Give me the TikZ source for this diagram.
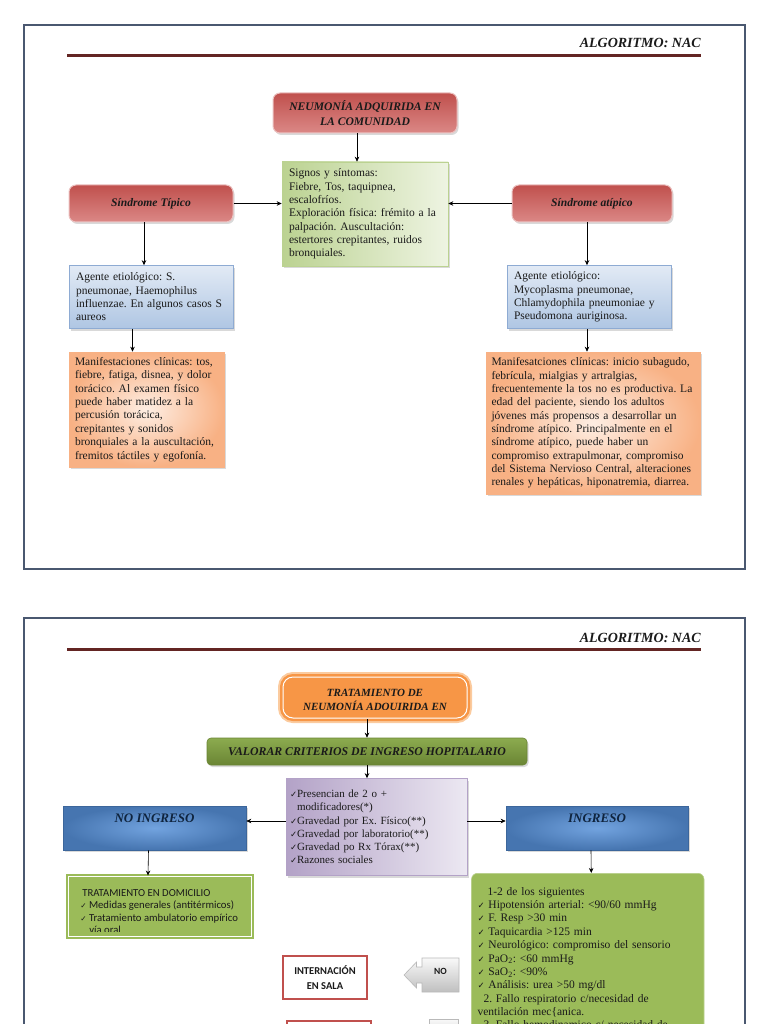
\documentclass[tikz,border=0pt]{standalone}
\usepackage{fontspec}
\setmainfont{Liberation Serif}
\newfontfamily\calibri{Carlito}
\newfontfamily\dejavu{DejaVu Sans}
\usetikzlibrary{shadows, arrows.meta}

\definecolor{rojo}{HTML}{C0504D}
\definecolor{rojoclaro}{HTML}{DB8886}
\definecolor{rojoborde}{HTML}{EBC1C0}
\definecolor{azuloscuro}{HTML}{4675B0}
\definecolor{azulclaro}{HTML}{72A3DF}
\definecolor{azulborde}{HTML}{3C669B}
\definecolor{marino}{HTML}{0F243E}
\definecolor{celeste}{HTML}{AFC6E3}
\definecolor{celesteclaro}{HTML}{E2EAF5}
\definecolor{celesteborde}{HTML}{8EABD3}
\definecolor{naranja}{HTML}{F79646}
\definecolor{naranjaclaro}{HTML}{FBCB9F}
\definecolor{salmon}{HTML}{F8B184}
\definecolor{salmonclaro}{HTML}{FEEEE3}
\definecolor{verde}{HTML}{9BBB59}
\definecolor{verdeclaro}{HTML}{EEF4E2}
\definecolor{verdemedio}{HTML}{BBD291}
\definecolor{oliva}{HTML}{6A8534}
\definecolor{olivaclaro}{HTML}{8CAB4F}
\definecolor{lila}{HTML}{B3A2C7}
\definecolor{lilaclaro}{HTML}{ECE8F2}
\definecolor{marco}{HTML}{4A5870}
\definecolor{vino}{HTML}{632523}
\definecolor{tinta}{HTML}{1A1A1A}

\newcommand{\chk}{{\dejavu\fontsize{8.5}{8.5}\selectfont ✓}}
\newcommand{\chkS}{{\dejavu\fontsize{7.5}{7.5}\selectfont ✓}}
\frenchspacing

\begin{document}
\begin{tikzpicture}[
            x = 1pt, y = -1pt, % one unit per pixel, y grows downwards
            > = {Stealth[length=5pt, width=4.5pt]}, % arrow head style
            semithick, % line style
            every node/.style = {text=tinta},
            sombra/.style = {drop shadow={opacity=0.3, shadow xshift=1.5pt, shadow yshift=-2pt}},
            hoja/.style = {draw=marco, line width=1.3pt},
            regla/.style = {draw=vino, line width=3.5pt},
            titulo/.style = {font=\bfseries\itshape\fontsize{14}{14}\selectfont, inner sep=0pt},
            redbox/.style = {rectangle, rounded corners=7pt, draw=rojoborde, line width=1pt,
                top color=rojo, bottom color=rojoclaro, sombra, align=center,
                font=\bfseries\itshape\fontsize{11.6}{15}\selectfont},
            textbox/.style = {rectangle, align=left, inner ysep=2pt, sombra,
                font=\fontsize{11.5}{13.35}\selectfont},
            greenbox/.style = {textbox, draw=verdemedio, left color=verdemedio, right color=verdeclaro},
            agentbox/.style = {textbox, draw=celesteborde, top color=celesteclaro, bottom color=celeste},
            manbox/.style = {textbox, draw=salmon, inner color=salmonclaro, outer color=salmon},
            orangebox/.style = {rectangle, rounded corners=10pt, fill=naranja, draw=naranja,
                double=white, double distance=1pt, line width=2.5pt,
                preaction={draw=naranjaclaro, line width=10pt}},
            olivebox/.style = {rectangle, rounded corners=4pt, draw=oliva, top color=olivaclaro,
                bottom color=oliva, sombra, font=\bfseries\itshape\fontsize{11.8}{13}\selectfont},
            lilabox/.style = {textbox, draw=lila, left color=lila, right color=lilaclaro,
                font=\fontsize{11}{13.2}\selectfont},
            bluebox/.style = {rectangle, draw=azulborde, inner color=azulclaro, outer color=azuloscuro,
                sombra, text height=11pt, text depth=23pt, inner ysep=5pt, text=marino,
                font=\bfseries\itshape\fontsize{13}{13}\selectfont},
            domicbox/.style = {rectangle, fill=verde, draw=verde, double=white,
                double distance=1.2pt, line width=2pt},
            ingbox/.style = {rectangle, rounded corners=6pt, fill=verde, draw=verde!70!white,
                align=left, font=\fontsize{11.5}{13.35}\selectfont},
            salabox/.style = {rectangle, draw=rojo, line width=2.2pt, fill=white, align=center,
                minimum width=84pt, minimum height=43pt,
                font=\calibri\bfseries\fontsize{10.5}{15}\selectfont},
            greybox/.style = {draw=gray!55, top color=gray!5, bottom color=gray!50}
        ]
\useasboundingbox (0,0) rectangle (768,1024);

% page 1
\draw[hoja] (24,25) rectangle (745,569);
\node[titulo, anchor=base east] (alg1) at (701,48) {ALGORITMO: NAC};
\draw[regla] (67,55.5) -- (701,55.5);

\node[redbox, minimum width=184pt, minimum height=40pt] (neum) at (365,113) {NEUMONÍA ADQUIRIDA EN\\LA COMUNIDAD};
\node[greenbox, minimum width=166pt, minimum height=104pt, inner xsep=7pt, text width=152pt] (signos) at (365,214)
    {Signos y síntomas:\\Fiebre, Tos, taquipnea,\\escalofríos.\\Exploración física: frémito a la\\palpación. Auscultación:\\estertores crepitantes, ruidos\\bronquiales.};
\node[redbox, minimum width=164pt, minimum height=37pt] (tipico) at (151,203.5) {Síndrome Típico};
\node[redbox, minimum width=160pt, minimum height=37pt] (atipico) at (592,203.5) {Síndrome atípico};

\node[agentbox, minimum width=164pt, minimum height=63pt, inner xsep=7pt, text width=150pt] (agtip) at (151,297)
    {Agente etiológico: S.\\pneumonae, Haemophilus\\influenzae. En algunos casos S\\aureos};
\node[agentbox, minimum width=164pt, minimum height=63pt, inner xsep=7pt, text width=150pt] (agatip) at (589,297)
    {Agente etiológico:\\Mycoplasma pneumonae,\\Chlamydophila pneumoniae y\\Pseudomona auriginosa.};

\node[manbox, minimum width=155pt, minimum height=115pt, inner xsep=6pt, text width=143pt] (mantip) at (146.5,409.5)
    {Manifestaciones clínicas: tos,\\fiebre, fatiga, disnea, y dolor\\torácico. Al examen físico\\puede haber matidez a la\\percusión torácica,\\crepitantes y sonidos\\bronquiales a la auscultación,\\fremitos táctiles y egofonía.};
\node[manbox, minimum width=214pt, minimum height=142pt, inner xsep=5.5pt, text width=203pt] (manatip) at (593,423)
    {Manifesatciones clínicas: inicio subagudo,\\febrícula, mialgias y artralgias,\\frecuentemente la tos no es productiva. La\\edad del paciente, siendo los adultos\\jóvenes más propensos a desarrollar un\\síndrome atípico. Principalmente en el\\síndrome atípico, puede haber un\\compromiso extrapulmonar, compromiso\\del Sistema Nervioso Central, alteraciones\\renales y hepáticas, hiponatremia, diarrea.};

\path [->] ([xshift=-8pt]neum.south) edge ([xshift=-8pt]signos.north);
\path [->] (tipico.east) edge (signos.west |- tipico.east);
\path [->] (atipico.west) edge (signos.east |- atipico.west);
\path [->] ([xshift=-7pt]tipico.south) edge ([xshift=-7pt]agtip.north);
\path [->] ([xshift=-18.5pt]agtip.south) edge ([xshift=-14pt]mantip.north);
\path [->] ([xshift=-5pt]atipico.south) edge ([xshift=-2pt]agatip.north);
\path [->] ([xshift=-2pt]agatip.south) edge ([xshift=-6pt]manatip.north);

% page 2
\draw[hoja] (24,618) rectangle (745,1040);
\node[titulo, anchor=base east] (alg2) at (701,642) {ALGORITMO: NAC};
\draw[regla] (67,649.5) -- (701,649.5);

\node[orangebox, minimum width=184pt, minimum height=41pt] (trat) at (375,697.5) {};
\begin{scope}
  \clip (283,679) rectangle (467,709.5);
  \node[anchor=north, inner sep=0pt, align=center, font=\bfseries\itshape\fontsize{11}{13.6}\selectfont] (tratTxt) at (375,689)
      {TRATAMIENTO DE\\NEUMONÍA ADQUIRIDA EN};
\end{scope}

\node[olivebox, minimum width=320pt, minimum height=27pt] (valorar) at (367,751.5) {VALORAR CRITERIOS DE INGRESO HOPITALARIO};
\node[lilabox, minimum width=181pt, minimum height=97pt, inner xsep=4pt, text width=173pt] (crit) at (376.5,827)
    {\chk Presencian de 2 o +\\\phantom{\chk}modificadores(*)\\\chk Gravedad por Ex. Físico(**)\\\chk Gravedad por laboratorio(**)\\\chk Gravedad po Rx Tórax(**)\\\chk Razones sociales};
\node[bluebox, minimum width=183pt] (noing) at (154.5,828) {NO INGRESO};
\node[bluebox, minimum width=182pt] (ing) at (597,828) {INGRESO};

\node[domicbox, minimum width=183pt, minimum height=60pt] (domic) at (160,906.5) {};
\begin{scope}
  \clip (70,880) rectangle (250,931);
  \node[anchor=north west, inner sep=0pt, align=left, font=\calibri\fontsize{10.7}{12.5}\selectfont] (domicTxt) at (80,889)
      {\hspace*{2pt}TRATAMIENTO EN DOMICILIO\\\chkS\ Medidas generales (antitérmicos)\\\chkS\ Tratamiento ambulatorio empírico\\\hspace*{9pt}vía oral};
\end{scope}

\node[ingbox, anchor=north, inner xsep=6pt, inner ysep=14pt, text width=220.5pt] (ingcrit) at (587.75,873)
    {\hspace*{10pt}1-2 de los siguientes\\
     \chk\ Hipotensión arterial: <90/60 mmHg\\
     \chk\ F. Resp >30 min\\
     \chk\ Taquicardia >125 min\\
     \chk\ Neurológico: compromiso del sensorio\\
     \chk\ PaO\textsubscript{2}: <60 mmHg\\
     \chk\ SaO\textsubscript{2}: <90\%\\
     \chk\ Análisis: urea >50 mg/dl\\
     \hspace*{6pt}2. Fallo respiratorio c/necesidad de\\
     ventilación mec\{anica.\\
     \hspace*{6pt}3. Fallo hemodinamico c/ necesidad de};

\node[salabox] (sala) at (325,977.5) {INTERNACIÓN\\EN SALA};
\path[greybox] (422,958) -- (459,958) -- (459,992) -- (422,992) -- (422,983) -- (416.5,983)
    -- (416.5,988) -- (404,975) -- (416.5,962) -- (416.5,967) -- (422,967) -- cycle;
\node[font=\calibri\bfseries\fontsize{9.5}{9.5}\selectfont] (noTxt) at (440.5,971) {NO};

\node[salabox, anchor=north] (sala2) at (329,1020) {};
\path[greybox] (429,1019) rectangle (458,1050);

\path [->] ([xshift=-8pt]trat.south) edge (valorar.north);
\path [->] (valorar.south) edge (valorar.south |- crit.north);
\path [->] ([yshift=6pt]crit.west) edge ([yshift=7pt]noing.east);
\path [->] ([yshift=6pt]crit.east) edge ([yshift=7pt]ing.west);
\path [->] ([xshift=-6pt]noing.south) edge ([xshift=-12pt]domic.north);
\path [->] ([xshift=-6pt]ing.south) edge ([xshift=3.5pt]ingcrit.north);
\end{tikzpicture}
\end{document}
